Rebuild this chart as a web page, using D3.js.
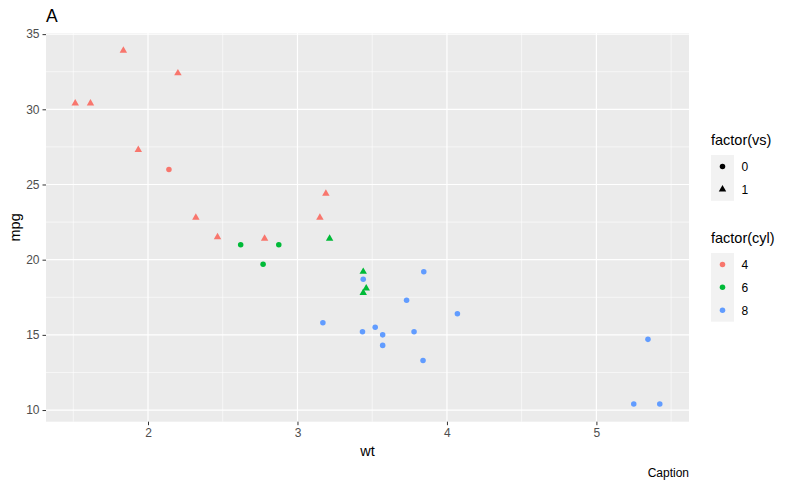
<!DOCTYPE html>
<html><head><meta charset="utf-8">
<script src="https://cdn.jsdelivr.net/npm/d3@7"></script>
<style>body{margin:0;background:#fff}text{font-family:Arial,"Liberation Sans",sans-serif}</style>
</head><body><svg id="c" width="791" height="486"></svg>
<script>
const wt  = [2.620,2.875,2.320,3.215,3.440,3.460,3.570,3.190,3.150,3.440,3.440,4.070,3.730,3.780,5.250,5.424,5.345,2.200,1.615,1.835,2.465,3.520,3.435,3.840,3.845,1.935,2.140,1.513,3.170,2.770,3.570,2.780];
const mpg = [21.0,21.0,22.8,21.4,18.7,18.1,14.3,24.4,22.8,19.2,17.8,16.4,17.3,15.2,10.4,10.4,14.7,32.4,30.4,33.9,21.5,15.5,15.2,13.3,19.2,27.3,26.0,30.4,15.8,19.7,15.0,21.4];
const cyl = [6,6,4,6,8,6,8,4,4,6,6,8,8,8,8,8,8,4,4,4,4,8,8,8,8,4,4,4,8,6,8,4];
const vs  = [0,0,1,1,0,1,0,1,1,1,1,0,0,0,0,0,0,1,1,1,1,0,0,0,0,1,0,1,0,0,0,1];
const xTicks = [2,3,4,5];
const yTicks = [10,15,20,25,30,35];
const vsLevels = [0,1];
const cylLevels = [4,6,8];
const cylColors = ["#F8766D","#00BA38","#619CFF"];

const svg = d3.select("#c");
const P = {l:46, r:689, t:33, b:421.7};
const xr = d3.extent(wt), yr = d3.extent(mpg);
const xp = (xr[1]-xr[0])*0.05, yp = (yr[1]-yr[0])*0.05;
const x = d3.scaleLinear().domain([xr[0]-xp, xr[1]+xp]).range([P.l,P.r]);
const y = d3.scaleLinear().domain([yr[0]-yp, yr[1]+yp]).range([P.b,P.t]);
const color = d3.scaleOrdinal().domain(cylLevels).range(cylColors);
const shape = d3.scaleOrdinal().domain(vsLevels).range([d3.symbolCircle, d3.symbolTriangle]);

svg.append("rect").attr("x",P.l).attr("y",P.t).attr("width",P.r-P.l).attr("height",P.b-P.t).attr("fill","#EBEBEB");
const xMinor = [1.5,2.5,3.5,4.5,5.5].filter(v=>v>x.domain()[0]&&v<x.domain()[1]);
const yMinor = [12.5,17.5,22.5,27.5,32.5];
const g = svg.append("g");
g.selectAll(".xm").data(xMinor).join("line").attr("x1",d=>x(d)).attr("x2",d=>x(d)).attr("y1",P.t).attr("y2",P.b).attr("stroke","#fff").attr("stroke-width",0.6);
g.selectAll(".ym").data(yMinor).join("line").attr("y1",d=>y(d)).attr("y2",d=>y(d)).attr("x1",P.l).attr("x2",P.r).attr("stroke","#fff").attr("stroke-width",0.6);
g.selectAll(".xM").data(xTicks).join("line").attr("x1",d=>x(d)).attr("x2",d=>x(d)).attr("y1",P.t).attr("y2",P.b).attr("stroke","#fff").attr("stroke-width",1.2);
g.selectAll(".yM").data(yTicks).join("line").attr("y1",d=>y(d)).attr("y2",d=>y(d)).attr("x1",P.l).attr("x2",P.r).attr("stroke","#fff").attr("stroke-width",1.2);

const xa = svg.append("g").attr("transform",`translate(0,${P.b})`).call(d3.axisBottom(x).tickValues(xTicks).tickSize(3.5).tickPadding(3).tickFormat(d3.format("d")));
const ya = svg.append("g").attr("transform",`translate(${P.l},0)`).call(d3.axisLeft(y).tickValues(yTicks).tickSize(3.5).tickPadding(3).tickFormat(d3.format("d")));
[xa,ya].forEach(a=>{a.select(".domain").remove();a.selectAll(".tick line").attr("stroke","#333").attr("stroke-width",1);a.selectAll("text").attr("fill","#4D4D4D").style("font-size","12px").style("font-family","Arial,'Liberation Sans',sans-serif");});

svg.append("g").selectAll("path").data(wt.map((d,i)=>i)).join("path")
  .attr("transform",i=>`translate(${x(wt[i])},${y(mpg[i])})`)
  .attr("d",i=>d3.symbol().type(shape(vs[i])).size(vs[i]===1?24:24)())
  .attr("fill",i=>color(cyl[i]));

svg.append("text").attr("x",46).attr("y",22).text("A").style("font-size","17.5px").attr("fill","#000");
svg.append("text").attr("x",(P.l+P.r)/2).attr("y",456).attr("text-anchor","middle").text("wt").style("font-size","14.5px");
svg.append("text").attr("transform",`translate(19.5,${(P.t+P.b)/2}) rotate(-90)`).attr("text-anchor","middle").text("mpg").style("font-size","14.5px");
svg.append("text").attr("x",P.r).attr("y",477).attr("text-anchor","end").text("Caption").style("font-size","12px");

function legend(top, title, levels, draw){
  const lg = svg.append("g");
  lg.append("text").attr("x",711).attr("y",top).text(title).style("font-size","14.5px");
  const k0 = top+10, ks=22.9;
  lg.append("rect").attr("x",711).attr("y",k0).attr("width",23).attr("height",ks*levels.length).attr("fill","#F2F2F2");
  levels.forEach((l,i)=>{
    const cy = k0+ks*i+ks/2;
    draw(lg, l, 722.5, cy);
    lg.append("text").attr("x",741.5).attr("y",cy+4.5).text(l).style("font-size","12px").attr("fill","#000");
  });
}
legend(145, "factor(vs)", vsLevels, (lg,l,cx,cy)=>lg.append("path").attr("transform",`translate(${cx},${cy})`).attr("d",d3.symbol().type(shape(l)).size(24)()).attr("fill","#000"));
legend(243, "factor(cyl)", cylLevels, (lg,l,cx,cy)=>lg.append("path").attr("transform",`translate(${cx},${cy})`).attr("d",d3.symbol().type(d3.symbolCircle).size(24)()).attr("fill",color(l)));
</script></body></html>
